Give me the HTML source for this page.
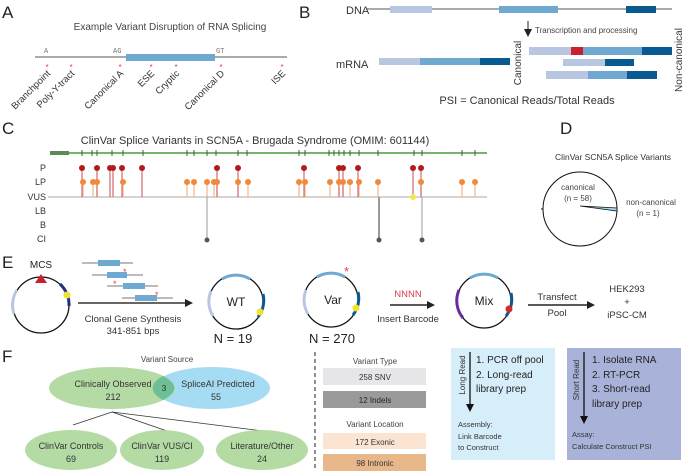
<!DOCTYPE html>
<html><head><meta charset="utf-8"><style>
body{margin:0;background:#fff}
svg{display:block;font-family:"Liberation Sans",sans-serif}
</style></head><body>
<svg width="685" height="471" viewBox="0 0 685 471" xmlns="http://www.w3.org/2000/svg">
<defs>
<marker id="ah" markerWidth="8" markerHeight="8" refX="6" refY="4" orient="auto" markerUnits="userSpaceOnUse"><path d="M0,0 L8,4 L0,8 z" fill="#222"/></marker>
</defs>
<!-- A -->
<text x="2" y="18" font-size="17" fill="#222">A</text>
<text x="170" y="30" font-size="10" fill="#444" text-anchor="middle">Example Variant Disruption of RNA Splicing</text>
<line x1="35" y1="57" x2="287" y2="57" stroke="#555" stroke-width="1"/>
<rect x="126" y="54" width="89" height="7" fill="#6fa8d0"/>
<g font-family="Liberation Mono" font-size="7" fill="#777"><text x="44" y="53">A</text><text x="113" y="53">AG</text><text x="216" y="53">GT</text></g>
<g fill="#d9434c" font-size="8" text-anchor="middle"><text x="47" y="70">*</text><text x="71" y="70">*</text><text x="120" y="70">*</text><text x="151" y="70">*</text><text x="176" y="70">*</text><text x="221" y="70">*</text><text x="282" y="70">*</text></g>
<g font-size="9.5" fill="#333" text-anchor="end">
<text transform="translate(51,74) rotate(-45)">Branchpoint</text>
<text transform="translate(75,74) rotate(-45)">Poly-Y-tract</text>
<text transform="translate(124,74) rotate(-45)">Canonical A</text>
<text transform="translate(155,74) rotate(-45)">ESE</text>
<text transform="translate(180,74) rotate(-45)">Cryptic</text>
<text transform="translate(225,74) rotate(-45)">Canonical D</text>
<text transform="translate(286,74) rotate(-45)">ISE</text>
</g>
<!-- B -->
<text x="299" y="18" font-size="17" fill="#222">B</text>
<text x="346" y="14" font-size="11" fill="#333">DNA</text>
<line x1="367" y1="9" x2="672" y2="9" stroke="#555"/>
<rect x="390" y="6" width="42" height="7" fill="#b9c6e2"/><rect x="499" y="6" width="59" height="7" fill="#6fa8d0"/><rect x="626" y="6" width="30" height="7" fill="#0a5a92"/>
<line x1="528" y1="21" x2="528" y2="35" stroke="#222" marker-end="url(#ah)"/>
<text x="535" y="33" font-size="8" fill="#444">Transcription and processing</text>
<text x="336" y="68" font-size="11" fill="#333">mRNA</text>
<rect x="379" y="58" width="41" height="7" fill="#b9c6e2"/><rect x="420" y="58" width="60" height="7" fill="#6fa8d0"/><rect x="480" y="58" width="30" height="7" fill="#0a5a92"/>
<text transform="translate(521,63) rotate(-90)" font-size="10" fill="#333" text-anchor="middle">Canonical</text>
<rect x="529" y="47" width="42" height="8" fill="#b9c6e2"/><rect x="571" y="47" width="12" height="8" fill="#c8202e"/><rect x="583" y="47" width="59" height="8" fill="#6fa8d0"/><rect x="642" y="47" width="30" height="8" fill="#0a5a92"/>
<rect x="563" y="59" width="42" height="7" fill="#b9c6e2"/><rect x="605" y="59" width="29" height="7" fill="#0a5a92"/>
<rect x="546" y="71" width="42" height="8" fill="#b9c6e2"/><rect x="588" y="71" width="39" height="8" fill="#6fa8d0"/><rect x="627" y="71" width="30" height="8" fill="#0a5a92"/>
<text transform="translate(682,60) rotate(-90)" font-size="10" fill="#333" text-anchor="middle">Non-canonical</text>
<text x="527" y="104" font-size="11" fill="#333" text-anchor="middle">PSI = Canonical Reads/Total Reads</text>
<!-- C -->
<text x="2" y="134" font-size="17" fill="#222">C</text>
<text x="255" y="144" font-size="11" fill="#333" text-anchor="middle">ClinVar Splice Variants in SCN5A - Brugada Syndrome (OMIM: 601144)</text>
<line x1="50" y1="153" x2="487" y2="153" stroke="#4a9a3f" stroke-width="1.5"/>
<rect x="50" y="151" width="19" height="4" fill="#5c8c55"/>
<g stroke="#2f6a2a" stroke-width="1">
<path d="M82 150v6M92 150v6M97 150v6M112 150v6M123 150v6M143 150v6M187 150v6M194 150v6M207 150v6M216 150v6M238 150v6M247 150v6M299 150v6M305 150v6M329 150v6M334 150v6M339 150v6M344 150v6M350 150v6M359 150v6M378 150v6M414 150v6M422 150v6M462 150v6M475 150v6"/>
</g>
<g font-size="9" fill="#333" text-anchor="end"><text x="46" y="171">P</text><text x="46" y="185">LP</text><text x="46" y="200">VUS</text><text x="46" y="214">LB</text><text x="46" y="228">B</text><text x="46" y="242">CI</text></g>
<line x1="48" y1="197" x2="487" y2="197" stroke="#aaa"/>
<g stroke="#999"><line x1="207" y1="197" x2="207" y2="240"/><line x1="379" y1="197" x2="379" y2="240" stroke-width="2"/><line x1="422" y1="197" x2="422" y2="240"/></g>
<g fill="#555"><circle cx="207" cy="240" r="2.5"/><circle cx="379" cy="240" r="2.5"/><circle cx="422" cy="240" r="2.5"/></g>
<g stroke="#f4b489" stroke-width="1.2">
<path d="M83 182v15M93 182v15M97 182v15M123 182v15M187 182v15M194 182v15M207 182v15M214 182v15M217 182v15M238 182v15M248 182v15M299 182v15M305 182v15M330 182v15M339 182v15M343 182v15M350 182v15M359 182v15M378 182v15M421 182v15M462 182v15M475 182v15"/>
</g>
<g stroke="#d46a6a" stroke-width="1.2">
<path d="M82 168v29M97 168v29M110 168v29M113 168v29M122 168v29M142 168v29M217 168v29M238 168v29M304 168v29M339 168v29M343 168v29M358 168v29M413 168v29M421 168v29"/>
</g>
<g fill="#f08a3a">
<circle cx="83" cy="182" r="3"/><circle cx="93" cy="182" r="3"/><circle cx="97" cy="182" r="3"/><circle cx="123" cy="182" r="3"/><circle cx="187" cy="182" r="3"/><circle cx="194" cy="182" r="3"/><circle cx="207" cy="182" r="3"/><circle cx="214" cy="182" r="3"/><circle cx="217" cy="182" r="3"/><circle cx="238" cy="182" r="3"/><circle cx="248" cy="182" r="3"/><circle cx="299" cy="182" r="3"/><circle cx="305" cy="182" r="3"/><circle cx="330" cy="182" r="3"/><circle cx="339" cy="182" r="3"/><circle cx="343" cy="182" r="3"/><circle cx="350" cy="182" r="3"/><circle cx="359" cy="182" r="3"/><circle cx="378" cy="182" r="3"/><circle cx="421" cy="182" r="3"/><circle cx="462" cy="182" r="3"/><circle cx="475" cy="182" r="3"/>
</g>
<g fill="#b31b1b">
<circle cx="82" cy="168" r="3"/><circle cx="97" cy="168" r="3"/><circle cx="110" cy="168" r="3"/><circle cx="113" cy="168" r="3"/><circle cx="122" cy="168" r="3"/><circle cx="142" cy="168" r="3"/><circle cx="217" cy="168" r="3"/><circle cx="238" cy="168" r="3"/><circle cx="304" cy="168" r="3"/><circle cx="339" cy="168" r="3"/><circle cx="343" cy="168" r="3"/><circle cx="358" cy="168" r="3"/><circle cx="413" cy="168" r="3"/><circle cx="421" cy="168" r="3"/>
</g>
<circle cx="413" cy="197" r="3" fill="#eee84a"/>
<!-- D -->
<text x="560" y="134" font-size="17" fill="#222">D</text>
<text x="613" y="160" font-size="8.5" fill="#333" text-anchor="middle">ClinVar SCN5A Splice Variants</text>
<circle cx="580" cy="209" r="37" fill="#fff" stroke="#111" stroke-width="1"/>
<path d="M580 206 L617 208 L617 211 Z" fill="#a6dcf3" stroke="#111" stroke-width="0.8"/>
<line x1="543" y1="209" x2="541" y2="209" stroke="#111"/>
<text x="578" y="190" font-size="8" fill="#444" text-anchor="middle">canonical</text>
<text x="578" y="201" font-size="8" fill="#444" text-anchor="middle">(n = 58)</text>
<text x="651" y="205" font-size="8" fill="#444" text-anchor="middle">non-canonical</text>
<text x="648" y="216" font-size="8" fill="#444" text-anchor="middle">(n = 1)</text>
<!-- E -->
<text x="2" y="268" font-size="17" fill="#222">E</text>
<text x="41" y="268" font-size="10" fill="#222" text-anchor="middle">MCS</text>
<circle cx="41" cy="305" r="28" fill="none" stroke="#111" stroke-width="1.3"/>
<path d="M35 283 L47 283 L41 274 Z" fill="#c8202e"/>
<path d="M17 290 A28 28 0 0 0 14 314" stroke="#b9c6e2" stroke-width="3" fill="none"/>
<path d="M60 284 A28 28 0 0 1 69 306" stroke="#1f2d8a" stroke-width="3" fill="none"/>
<circle cx="67" cy="295" r="3.5" fill="#f2e22b"/>
<line x1="78" y1="303" x2="191" y2="303" stroke="#333" stroke-width="1.5" marker-end="url(#ah)"/>
<g stroke="#777"><line x1="82" y1="263" x2="133" y2="263"/><line x1="92" y1="275" x2="143" y2="275"/><line x1="107" y1="286" x2="158" y2="286"/><line x1="122" y1="298" x2="173" y2="298"/></g>
<g fill="#6fa8d0"><rect x="98" y="260" width="22" height="6"/><rect x="107" y="272" width="20" height="6"/><rect x="123" y="283" width="22" height="6"/><rect x="135" y="295" width="22" height="6"/></g>
<g fill="#d9434c" font-size="9"><text x="123" y="275">*</text><text x="113" y="287">*</text><text x="155" y="298">*</text></g>
<text x="133" y="322" font-size="9.5" fill="#333" text-anchor="middle">Clonal Gene Synthesis</text>
<text x="133" y="334" font-size="9.5" fill="#333" text-anchor="middle">341-851 bps</text>
<circle cx="236" cy="302" r="27" fill="none" stroke="#111" stroke-width="1.3"/>
<path d="M222 279 A27 27 0 0 1 250 279" stroke="#6fa8d0" stroke-width="3" fill="none"/>
<path d="M211 291 A27 27 0 0 0 213 316" stroke="#b9c6e2" stroke-width="3" fill="none"/>
<path d="M263 294 A27 27 0 0 1 258 317" stroke="#0a5a92" stroke-width="3" fill="none"/>
<circle cx="260" cy="312" r="3.5" fill="#f2e22b"/>
<text x="236" y="306" font-size="12" fill="#222" text-anchor="middle">WT</text>
<text x="233" y="343" font-size="13" fill="#222" text-anchor="middle">N = 19</text>
<circle cx="331" cy="300" r="27" fill="none" stroke="#111" stroke-width="1.3"/>
<path d="M317 277 A27 27 0 0 1 345 277" stroke="#6fa8d0" stroke-width="3" fill="none"/>
<path d="M306 290 A27 27 0 0 0 308 314" stroke="#b9c6e2" stroke-width="3" fill="none"/>
<path d="M358 292 A27 27 0 0 1 353 315" stroke="#0a5a92" stroke-width="3" fill="none"/>
<circle cx="356" cy="308" r="3.5" fill="#f2e22b"/>
<text x="344" y="276" font-size="13" fill="#d9434c">*</text>
<text x="333" y="304" font-size="12" fill="#222" text-anchor="middle">Var</text>
<text x="332" y="343" font-size="13" fill="#222" text-anchor="middle">N = 270</text>
<text x="408" y="297" font-size="9.5" fill="#d9434c" text-anchor="middle">NNNN</text>
<line x1="390" y1="305" x2="433" y2="305" stroke="#222" stroke-width="1.5" marker-end="url(#ah)"/>
<text x="408" y="322" font-size="9.5" fill="#333" text-anchor="middle">Insert Barcode</text>
<circle cx="484" cy="301" r="27" fill="none" stroke="#111" stroke-width="1.3"/>
<path d="M470 278 A27 27 0 0 1 498 278" stroke="#6fa8d0" stroke-width="3" fill="none"/>
<path d="M459 290 A27 27 0 0 0 463 318" stroke="#6a2aa0" stroke-width="3" fill="none"/>
<path d="M511 293 A27 27 0 0 1 506 316" stroke="#0a5a92" stroke-width="3" fill="none"/>
<circle cx="509" cy="309" r="3.5" fill="#d52a2a"/>
<text x="484" y="305" font-size="12" fill="#222" text-anchor="middle">Mix</text>
<text x="557" y="300" font-size="9.5" fill="#333" text-anchor="middle">Transfect</text>
<line x1="528" y1="305" x2="593" y2="305" stroke="#222" stroke-width="1.5" marker-end="url(#ah)"/>
<text x="557" y="316" font-size="9.5" fill="#333" text-anchor="middle">Pool</text>
<text x="627" y="292" font-size="9.5" fill="#333" text-anchor="middle">HEK293</text>
<text x="627" y="305" font-size="9.5" fill="#333" text-anchor="middle">+</text>
<text x="627" y="318" font-size="9.5" fill="#333" text-anchor="middle">iPSC-CM</text>
<!-- F -->
<text x="2" y="362" font-size="17" fill="#222">F</text>
<text x="167" y="362" font-size="8" fill="#444" text-anchor="middle">Variant Source</text>
<ellipse cx="212" cy="388" rx="58" ry="21" fill="#a6dcf3"/>
<ellipse cx="112" cy="388" rx="63" ry="21" fill="#b5dba5"/>
<path d="M163 376 A58 21 0 0 0 163 400 A63 21 0 0 0 163 376Z" fill="#6fbf96"/>
<circle cx="163" cy="388" r="9" fill="#6fbf96"/>
<text x="113" y="387" font-size="9" fill="#333" text-anchor="middle">Clinically Observed</text>
<text x="113" y="400" font-size="9" fill="#333" text-anchor="middle">212</text>
<text x="164" y="391" font-size="8.5" fill="#333" text-anchor="middle">3</text>
<text x="218" y="387" font-size="9" fill="#333" text-anchor="middle">SpliceAI Predicted</text>
<text x="216" y="400" font-size="9" fill="#333" text-anchor="middle">55</text>
<g stroke="#333" stroke-width="0.8"><line x1="112" y1="412" x2="73" y2="425"/><line x1="112" y1="412" x2="167" y2="431"/><line x1="112" y1="412" x2="263" y2="431"/></g>
<ellipse cx="71" cy="450" rx="46" ry="20" fill="#b5dba5"/>
<ellipse cx="162" cy="450" rx="42" ry="20" fill="#b5dba5"/>
<ellipse cx="262" cy="450" rx="46" ry="20" fill="#b5dba5"/>
<g font-size="9" fill="#333" text-anchor="middle">
<text x="71" y="449">ClinVar Controls</text><text x="71" y="462">69</text>
<text x="162" y="449">ClinVar VUS/CI</text><text x="162" y="462">119</text>
<text x="262" y="449">Literature/Other</text><text x="262" y="462">24</text>
</g>
<line x1="315" y1="352" x2="315" y2="471" stroke="#222" stroke-dasharray="4,3"/>
<text x="375" y="364" font-size="8" fill="#444" text-anchor="middle">Variant Type</text>
<rect x="323" y="368" width="103" height="17" fill="#e6e6e8"/>
<text x="375" y="380" font-size="8" fill="#333" text-anchor="middle">258 SNV</text>
<rect x="323" y="391" width="103" height="17" fill="#9a9a9c"/>
<text x="375" y="403" font-size="8" fill="#222" text-anchor="middle">12 Indels</text>
<text x="375" y="427" font-size="8" fill="#444" text-anchor="middle">Variant Location</text>
<rect x="323" y="433" width="103" height="16" fill="#fbe5d2"/>
<text x="375" y="445" font-size="8" fill="#333" text-anchor="middle">172 Exonic</text>
<rect x="323" y="454" width="103" height="17" fill="#e8b88a"/>
<text x="375" y="466" font-size="8" fill="#333" text-anchor="middle">98 Intronic</text>
<!-- read boxes -->
<rect x="451" y="348" width="104" height="112" fill="#d6eefa"/>
<line x1="470" y1="352" x2="470" y2="408" stroke="#111" stroke-width="1.3"/>
<path d="M466 404 L474 404 L470 412 Z" fill="#111"/>
<text transform="translate(465,375) rotate(-90)" font-size="8" fill="#333" text-anchor="middle">Long Read</text>
<g font-size="10" fill="#222"><text x="476" y="363">1. PCR off pool</text><text x="476" y="378">2. Long-read</text><text x="476" y="392">library prep</text></g>
<g font-size="7.5" fill="#333"><text x="458" y="427">Assembly:</text><text x="458" y="439">Link Barcode</text><text x="458" y="450">to Construct</text></g>
<rect x="567" y="348" width="114" height="112" fill="#a9b3d9"/>
<line x1="584" y1="352" x2="584" y2="420" stroke="#111" stroke-width="1.3"/>
<path d="M580 416 L588 416 L584 424 Z" fill="#111"/>
<text transform="translate(579,380) rotate(-90)" font-size="8" fill="#333" text-anchor="middle">Short Read</text>
<g font-size="10" fill="#222"><text x="592" y="363">1. Isolate RNA</text><text x="592" y="378">2. RT-PCR</text><text x="592" y="392">3. Short-read</text><text x="592" y="407">library prep</text></g>
<g font-size="7.5" fill="#333"><text x="572" y="437">Assay:</text><text x="572" y="449">Calculate Construct PSI</text></g>
</svg>
</body></html>
